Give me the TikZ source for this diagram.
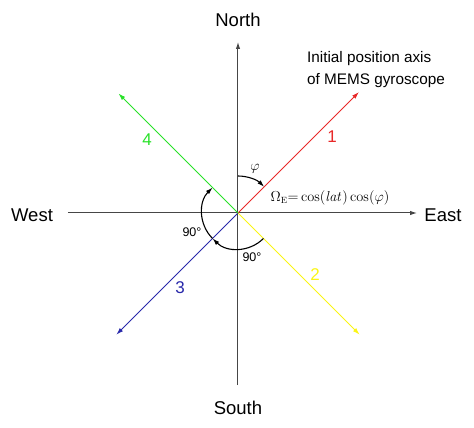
\documentclass[tikz,border=0pt]{standalone}
\usepackage{amsmath}
\usepackage[no-math]{fontspec}
\setmainfont{Liberation Sans}
\usetikzlibrary{arrows.meta}

\definecolor{axisgray}{RGB}{70,70,70}
\definecolor{rayred}{RGB}{232,40,40}
\definecolor{raygreen}{RGB}{40,225,40}
\definecolor{rayblue}{RGB}{40,40,170}
\definecolor{rayyellow}{RGB}{250,245,20}

\begin{document}
\begin{tikzpicture}[x=1pt,y=1pt,
	axis/.style={draw=axisgray, line width=1pt},
	tip/.style={-{Latex[length=7pt,width=4.5pt]}},
	ray/.style={line width=0.9pt, tip},
	compass/.style={font=\fontsize{18.5}{20}\selectfont},
	raynum/.style={font=\fontsize{17}{18}\selectfont},
	angle/.style={font=\fontsize{12.5}{14}\selectfont},
	turn/.style={draw=black, line width=1.1pt, tip}]
	\useasboundingbox (-238,-215) rectangle (236,213);
	% axes
	\coordinate (O) at (0,0);
	\coordinate (N) at (0,171);
	\coordinate (S) at (0,-172);
	\coordinate (W) at (-170,0);
	\coordinate (E) at (179,0);
	\draw[axis, tip] (S) -- (N);
	\draw[axis, tip] (W) -- (E);
	\node[compass] (north) at (0,193) {North};
	\node[compass] (south) at (0,-195) {South};
	\node[compass] (west) at (-206,-2) {West};
	\node[compass] (east) at (205,-2) {East};
	% rays
	\coordinate (r1) at (45:171);
	\coordinate (r2) at (-45:172);
	\coordinate (r3) at (-135:172);
	\coordinate (r4) at (135:169);
	\draw[ray, rayred] (O) -- (r1);
	\draw[ray, rayyellow] (O) -- (r2);
	\draw[ray, rayblue] (O) -- (r3);
	\draw[ray, raygreen] (O) -- (r4);
	\node[raynum, text=rayred] (n1) at (94,76) {1};
	\node[raynum, text=rayyellow] (n2) at (77,-62) {2};
	\node[raynum, text=rayblue] (n3) at (-58,-75) {3};
	\node[raynum, text=raygreen] (n4) at (-91,73) {4};
	% angles
	\coordinate (phiA) at (90:37);
	\coordinate (quA) at (-45:36);
	\coordinate (quB) at (-135:36);
	\draw[turn] (phiA) arc[start angle=90, end angle=45, radius=37];
	\draw[turn] (quA) arc[start angle=-45, end angle=-135, radius=36];
	\draw[turn] (quB) arc[start angle=-135, end angle=-225, radius=36];
	\node[font=\fontsize{14}{15}\selectfont] (phi) at (17,44) {$\varphi$};
	\node[angle] (a90l) at (-46,-19) {90°};
	\node[angle] (a90r) at (14,-44) {90°};
	% labels
	\node[font=\fontsize{13.5}{14}\selectfont] (omega) at (92,15)
		{$\Omega_{\mathrm{E}}{=}\cos(\mathit{lat})\cos(\varphi)$};
	\node[font=\fontsize{15.3}{22}\selectfont, align=left] (mems) at (138,143)
		{Initial position axis\\of MEMS gyroscope};
\end{tikzpicture}
\end{document}
